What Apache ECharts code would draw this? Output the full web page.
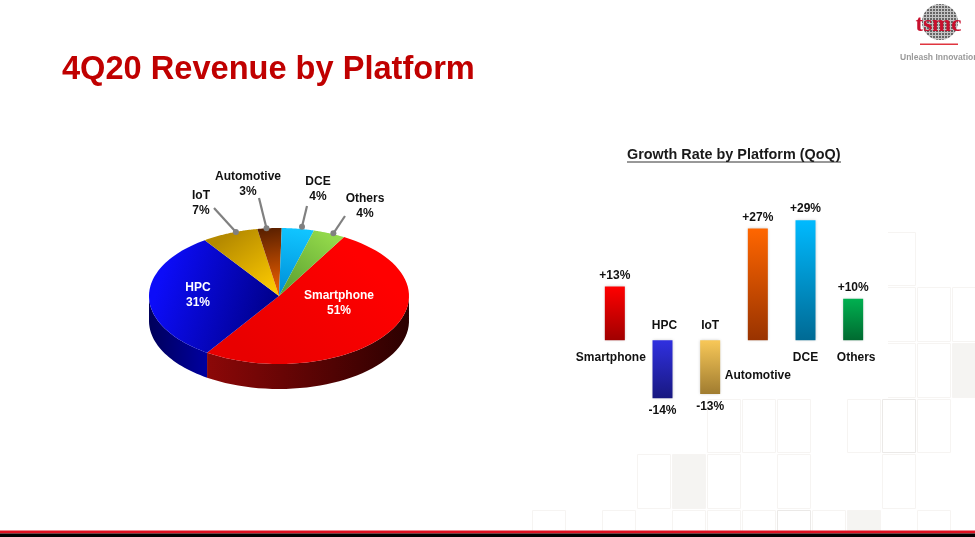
<!DOCTYPE html>
<html>
<head>
<meta charset="utf-8">
<title>4Q20 Revenue by Platform</title>
<style>
html,body{margin:0;padding:0;background:#fff;overflow:hidden}
#chart{width:975px;height:537px}
</style>
<script src="https://cdn.jsdelivr.net/npm/echarts@6/dist/echarts.min.js"></script>
</head>
<body>
<div id="chart"></div>
<script>
// pie data
var sliceNames = ["Smartphone", "HPC", "IoT", "Automotive", "DCE", "Others"];
var sliceShares = [51, 31, 7, 3, 4, 4];

// bar data
var growthNames = ["Smartphone", "HPC", "IoT", "Automotive", "DCE", "Others"];
var growthRates = [13, -14, -13, 27, 29, 10];
var growthNameLevels = [-4.3, 3.4, 3.4, -8.5, -4.3, -4.2];

var FONT = '"Liberation Sans", Arial, sans-serif';
var PIE_X = 279, PIE_Y = 296, PIE_R = 130, PIE_TILT = 0.523, PIE_DEPTH = 25;

// top face gradient: x0,y0,x1,y1,from,to
var sliceFill = [
    [340, 240, 240, 350, "#ff0000", "#e80000"],
    [165, 265, 275, 300, "#0c0cf8", "#00008c"],
    [232, 232, 276, 292, "#b58a00", "#ffcc00"],
    [265, 229, 277, 292, "#5a2000", "#f06000"],
    [290, 229, 280, 292, "#10c4ff", "#0090d8"],
    [326, 234, 282, 292, "#92d84a", "#5a9e30"]
];
var sliceSide = [
    ["#8c0808", "#2c0000"],
    ["#00005a", "#0000a0"]
];
var barFill = [
    ["#ff0000", "#a00000"],
    ["#3030e0", "#181880"],
    ["#f8c858", "#a07c30"],
    ["#ff6600", "#993300"],
    ["#00baff", "#006a94"],
    ["#00b050", "#006a30"]
];
var growthNameShift = [-4, 2, 0, 0, 0, 3];

// label centre x,y for each slice
var sliceLabelAt = [[339, 303], [198, 295], [201, 203], [248, 184], [318, 189], [365, 206]];
// leader start x,y and nudge of the dot from the slice middle
var leaders = [null, null, [214, 208, 6, -1], [259, 198, -3, 0], [307, 206, 4, -2], [345, 216, 4, 0]];

// background tiles: column, row, kind (0 outline, 1 filled, 2 stronger outline)
var tiles = [
    [7, 0, 0],
    [7, 1, 0], [8, 1, 0], [9, 1, 0],
    [7, 2, 0], [8, 2, 0], [9, 2, 1],
    [2, 3, 0], [3, 3, 0], [4, 3, 0], [6, 3, 0], [7, 3, 2], [8, 3, 0],
    [0, 4, 0], [1, 4, 1], [2, 4, 0], [4, 4, 0], [7, 4, 0],
    [-3, 5, 0], [-1, 5, 0], [1, 5, 0], [2, 5, 0], [3, 5, 0], [4, 5, 2], [5, 5, 0], [6, 5, 1], [8, 5, 0]
];
var rowTop = [232, 287, 343, 399, 454, 510];
var rowHeight = [53, 54, 54, 53, 54, 21];

function makeWaferPattern(){
    var c = document.createElement("canvas");
    c.width = 3; c.height = 3;
    var g = c.getContext("2d");
    g.fillStyle = "#c4c4c4";
    g.fillRect(0, 0, 3, 3);
    g.fillStyle = "#666";
    g.fillRect(0, 0, 2, 2);
    return c;
}

function buildBackground(){
    var items = [];
    tiles.forEach(function(t){
        items.push({
            type: "rect", silent: true, z: 0,
            shape: {x: 637 + t[0] * 35 + 0.5, y: rowTop[t[1]] + 0.5, width: 33, height: rowHeight[t[1]]},
            style: {
                fill: t[2] == 1 ? "#f5f4f2" : "#ffffff",
                stroke: t[2] == 2 ? "#ebe9e7" : "#f6f4f2",
                lineWidth: 1
            }
        });
    });
    // plain panel behind the bars
    items.push({type: "rect", silent: true, z: 1, shape: {x: 500, y: 120, width: 388, height: 279}, style: {fill: "#fff"}});
    items.push({type: "rect", silent: true, z: 2, shape: {x: 0, y: 530.5, width: 975, height: 3}, style: {fill: "#e01020"}});
    items.push({type: "rect", silent: true, z: 2, shape: {x: 0, y: 533.5, width: 975, height: 4}, style: {fill: "#000"}});
    // underline of the bar chart heading
    items.push({type: "line", silent: true, z: 2, shape: {x1: 627, y1: 162, x2: 841, y2: 162}, style: {stroke: "#333", lineWidth: 1}});
    // logo
    items.push({type: "circle", silent: true, z: 2, shape: {cx: 940, cy: 22, r: 18}, style: {fill: {image: makeWaferPattern(), repeat: "repeat"}}});
    items.push({type: "text", silent: true, z: 3, style: {text: "tsmc", x: 938.5, y: 25, fill: "#c8102e", font: 'bold 23px "Liberation Serif", serif', align: "center", verticalAlign: "middle"}});
    items.push({type: "rect", silent: true, z: 3, shape: {x: 920, y: 43.5, width: 38, height: 1.5}, style: {fill: "#e0353f"}});
    items.push({type: "text", silent: true, z: 3, style: {text: "Unleash Innovation", x: 900, y: 58, fill: "#9a9a9a", font: "bold 8.5px " + FONT, align: "left", verticalAlign: "middle"}});
    return items;
}

function renderSlice(params, api){
    var i = params.dataIndex;
    var from = 0;
    for (var k = 0; k < i; k++) {
        from += sliceShares[k];
    }
    var to = from + sliceShares[i];

    // polar axis gives the round point, then it is squashed into the tilted disc
    function rim(v){
        var p = api.coord([1, v]);
        return [p[0], PIE_Y + (p[1] - PIE_Y) * PIE_TILT];
    }

    var topPts = [[PIE_X, PIE_Y]], sidePts = [];
    for (var s = 0; s <= 60; s++) {
        var pt = rim(from + (to - from) * s / 60);
        topPts.push(pt);
        if (pt[1] >= PIE_Y) {
            sidePts.push(pt);
        }
    }
    var children = [];
    if (sidePts.length > 1) {
        var sideFull = sidePts.slice();
        for (var b = sidePts.length - 1; b >= 0; b--) {
            sideFull.push([sidePts[b][0], sidePts[b][1] + PIE_DEPTH]);
        }
        var sc = sliceSide[i];
        children.push({
            type: "polygon",
            shape: {points: sideFull},
            style: {fill: new echarts.graphic.LinearGradient(i == 0 ? 207 : 149, 0, i == 0 ? 409 : 207, 0, [
                {offset: 0, color: sc[0]}, {offset: 1, color: sc[1]}
            ], true)}
        });
    }
    var f = sliceFill[i];
    children.push({
        type: "polygon",
        shape: {points: topPts},
        style: {fill: new echarts.graphic.LinearGradient(f[0], f[1], f[2], f[3], [
            {offset: 0, color: f[4]}, {offset: 1, color: f[5]}
        ], true)}
    });

    var lead = leaders[i];
    if (lead) {
        var mid = rim((from + to) / 2);
        var dx = mid[0] + lead[2], dy = mid[1] + lead[3];
        children.push({type: "line", shape: {x1: lead[0], y1: lead[1], x2: dx, y2: dy}, style: {stroke: "#808080", lineWidth: 2.2}});
        children.push({type: "circle", shape: {cx: dx, cy: dy, r: 3}, style: {fill: "#808080"}});
    }
    var at = sliceLabelAt[i];
    children.push({
        type: "text",
        z2: 10,
        style: {
            text: sliceNames[i] + "\n" + sliceShares[i] + "%",
            x: at[0], y: at[1],
            fill: lead ? "#111" : "#fff",
            font: "bold 12px " + FONT,
            lineHeight: 14.5,
            align: "center",
            verticalAlign: "middle"
        }
    });
    return {type: "group", children: children};
}

var option = {
    animation: false,
    backgroundColor: "#fff",
    title: [
        {
            text: "4Q20 Revenue by Platform",
            left: 62, top: 54, padding: 0,
            textStyle: {color: "#c00000", fontFamily: FONT, fontWeight: "bold", fontSize: 32.6}
        },
        {
            text: "Growth Rate by Platform (QoQ)",
            left: 627, top: 148, padding: 0,
            textStyle: {color: "#1a1a1a", fontFamily: FONT, fontWeight: "bold", fontSize: 14.4}
        }
    ],
    graphic: {elements: buildBackground()},
    polar: {center: [PIE_X, PIE_Y], radius: PIE_R},
    angleAxis: {show: false, type: "value", min: 0, max: 100, startAngle: 60, clockwise: true},
    radiusAxis: {show: false, type: "value", min: 0, max: 1},
    grid: {left: 591, top: 216, width: 286, height: 207},
    xAxis: {
        type: "category",
        data: growthNames,
        axisTick: {show: false},
        axisLabel: {show: false},
        axisLine: {lineStyle: {color: "#bdbdbd", width: 1.5}}
    },
    yAxis: {show: false, type: "value", min: -20, max: 30, interval: 10, splitLine: {show: false}},
    series: [
        {
            type: "custom",
            coordinateSystem: "polar",
            encode: {radius: 0, angle: 1},
            data: sliceShares.map(function(v){ return [1, v]; }),
            renderItem: renderSlice,
            z: 5
        },
        {
            type: "bar",
            barWidth: 20,
            z: 5,
            data: growthRates.map(function(v, i){
                return {
                    value: v,
                    itemStyle: {
                        shadowBlur: 3,
                        shadowColor: "rgba(0,0,0,0.25)",
                        color: new echarts.graphic.LinearGradient(0, 0, 0, 1, [
                            {offset: 0, color: barFill[i][0]}, {offset: 1, color: barFill[i][1]}
                        ])
                    },
                    label: {
                        show: true,
                        position: v < 0 ? "bottom" : "top",
                        distance: v < 0 ? 7 : 5,
                        formatter: (v < 0 ? "" : "+") + v + "%",
                        color: "#111",
                        fontFamily: FONT,
                        fontWeight: "bold",
                        fontSize: 12
                    }
                };
            })
        },
        {
            // platform names sit at different heights around the axis
            type: "scatter",
            symbolSize: 1,
            z: 6,
            itemStyle: {color: "transparent", opacity: 1},
            data: growthNameLevels.map(function(v, i){
                return {
                    value: [growthNames[i], v],
                    label: {
                        show: true,
                        position: "inside",
                        offset: [growthNameShift[i], 0],
                        formatter: growthNames[i],
                        color: "#111",
                        fontFamily: FONT,
                        fontWeight: "bold",
                        fontSize: 12
                    }
                };
            })
        }
    ]
};

var chart = echarts.init(document.getElementById("chart"), null, {renderer: "canvas"});
chart.setOption(option);
</script>
</body>
</html>
